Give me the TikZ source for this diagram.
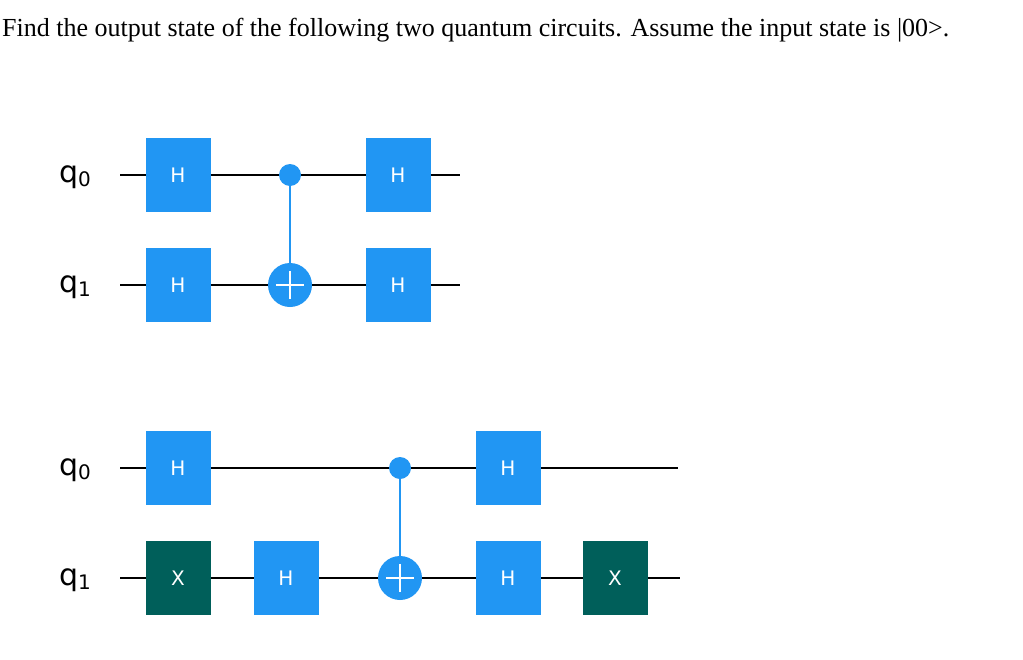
\documentclass[tikz,border=0pt]{standalone}
\usepackage{fontspec}
\setmainfont{Liberation Serif}
\newfontfamily\qfont{DejaVu Sans}
\definecolor{qblue}{RGB}{33,150,243}
\definecolor{qteal}{RGB}{0,95,90}
\tikzset{
 gate/.style={fill=qblue,minimum width=65pt,minimum height=74pt,inner sep=0pt,text=white,font=\qfont\fontsize{20}{20}\selectfont},
 xgate/.style={gate,fill=qteal},
 wire/.style={line width=2.2pt},
 ctrl/.style={circle,fill=qblue,minimum size=22pt,inner sep=0pt},
 targ/.style={circle,fill=qblue,minimum size=44pt,inner sep=0pt},
 qlab/.style={font=\qfont\fontsize{30}{30}\selectfont,anchor=center},
}
\begin{document}
\begin{tikzpicture}[x=1pt,y=-1pt]
\useasboundingbox[fill=white] (0,0) rectangle (1023,659);
\node[anchor=west,font=\fontsize{26}{26}\selectfont,inner sep=0pt] (title) at (2,30) {Find the output state of the following two quantum circuits. Assume the input state is |00>.};
% circuit 1
\node[qlab] (a0) at (75,177) {q\raisebox{-4pt}{\fontsize{20}{20}\selectfont 0}};
\node[qlab] (a1) at (75,287) {q\raisebox{-4pt}{\fontsize{20}{20}\selectfont 1}};
\coordinate (a0s) at (120,175); \coordinate (a0e) at (460,175);
\coordinate (a1s) at (120,285); \coordinate (a1e) at (460,285);
\draw[wire] (a0s) -- (a0e); \draw[wire] (a1s) -- (a1e);
\node[gate] (g1) at (178,175) {H};
\node[gate] (g2) at (178,285) {H};
\node[ctrl] (c1) at (290,175) {};
\node[targ] (t1) at (290,285) {};
\draw[qblue,line width=2.2pt] (c1.center) -- (t1.center);
\draw[white,line width=2.5pt] (t1.north)++(0,8) -- ++(0,28) (t1.west)++(8,0) -- ++(28,0);
\node[gate] (g3) at (398,175) {H};
\node[gate] (g4) at (398,285) {H};
% circuit 2
\node[qlab] (b0) at (75,470) {q\raisebox{-4pt}{\fontsize{20}{20}\selectfont 0}};
\node[qlab] (b1) at (75,580) {q\raisebox{-4pt}{\fontsize{20}{20}\selectfont 1}};
\coordinate (b0s) at (120,468); \coordinate (b0e) at (678,468);
\coordinate (b1s) at (120,578); \coordinate (b1e) at (680,578);
\draw[wire] (b0s) -- (b0e); \draw[wire] (b1s) -- (b1e);
\node[gate] (h1) at (178,468) {H};
\node[xgate] (x1) at (178,578) {X};
\node[gate] (h2) at (286,578) {H};
\node[ctrl] (c2) at (400,468) {};
\node[targ] (t2) at (400,578) {};
\draw[qblue,line width=2.2pt] (c2.center) -- (t2.center);
\draw[white,line width=2.5pt] (t2.north)++(0,8) -- ++(0,28) (t2.west)++(8,0) -- ++(28,0);
\node[gate] (h3) at (508,468) {H};
\node[gate] (h4) at (508,578) {H};
\node[xgate] (x2) at (615,578) {X};
\end{tikzpicture}
\end{document}
